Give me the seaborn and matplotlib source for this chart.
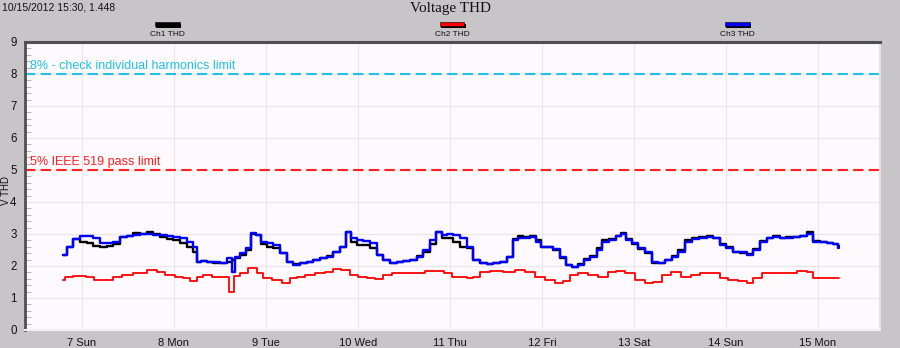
import matplotlib
matplotlib.use("Agg")
import matplotlib.pyplot as plt
import matplotlib.dates as mdates
from matplotlib.ticker import MultipleLocator, FixedLocator
from matplotlib.patches import Rectangle
import pandas as pd
import seaborn as sns

# Recording start reference; all sample times are hours after this instant
START = pd.Timestamp("2012-10-06 00:00")

# Channel 1 and channel 3 share the same sample times (hours)
ch13_hours = [
    19.1, 20.9, 22.6, 24.4, 26.1, 27.8, 29.6, 31.3, 33.0, 34.8, 36.5, 38.3,
    40.0, 41.7, 43.5, 45.2, 47.0, 48.7, 50.4, 52.2, 53.5, 54.4, 55.7, 57.4,
    59.1, 60.9, 62.6, 63.5, 64.3, 66.1, 67.4, 68.7, 70.0, 71.3, 73.0, 74.8,
    76.5, 78.3, 80.0, 81.7, 83.5, 85.2, 87.0, 88.7, 90.4, 92.2, 93.5, 94.8,
    96.5, 98.3, 100.0, 101.7, 103.5, 105.2, 107.0, 108.7, 110.4, 112.2, 113.9,
    115.7, 117.0, 118.7, 120.0, 121.7, 123.5, 125.2, 127.0, 128.7, 130.4,
    132.2, 133.9, 135.7, 137.0, 138.3, 140.0, 141.7, 143.0, 144.4, 146.1,
    147.8, 149.6, 150.9, 152.6, 154.4, 155.7, 157.4, 159.1, 160.4, 162.6,
    164.3, 165.2, 166.9, 168.3, 170.0, 171.7, 173.5, 175.2, 177.0, 178.7,
    180.4, 182.2, 183.9, 186.1, 187.8, 189.6, 191.3, 193.0, 194.8, 196.5,
    198.3, 200.0, 201.7, 203.5, 205.2, 206.9, 208.7, 210.4, 212.2, 213.9,
    215.7, 217.4, 219.1, 220.9, 221.6,
]
ch1_thd = [
    2.35, 2.60, 2.83, 2.76, 2.73, 2.63, 2.60, 2.63, 2.70, 2.90, 2.94, 3.02,
    3.00, 3.07, 3.00, 2.92, 2.83, 2.81, 2.71, 2.60, 2.45, 2.14, 2.15, 2.12,
    2.10, 2.08, 2.14, 2.20, 2.24, 2.35, 2.50, 3.00, 2.97, 2.70, 2.60, 2.55,
    2.40, 2.14, 2.05, 2.08, 2.14, 2.19, 2.26, 2.30, 2.45, 2.60, 3.05, 2.76,
    2.66, 2.66, 2.55, 2.34, 2.19, 2.08, 2.12, 2.15, 2.19, 2.30, 2.45,
    2.70, 3.05, 2.86, 2.86, 2.76, 2.60, 2.55, 2.19, 2.08, 2.06,
    2.08, 2.14, 2.29, 2.85, 2.95, 2.90, 2.95, 2.80, 2.60, 2.58,
    2.50, 2.25, 2.03, 1.98, 2.05, 2.22, 2.32, 2.55, 2.80, 2.85,
    2.95, 3.02, 2.85, 2.68, 2.52, 2.40, 2.10, 2.10, 2.20, 2.30,
    2.50, 2.80, 2.88, 2.90, 2.95, 2.88, 2.68, 2.58, 2.45, 2.42,
    2.38, 2.52, 2.78, 2.88, 2.95, 2.88, 2.90, 2.92, 2.95, 3.05,
    2.78, 2.75, 2.72, 2.70, 2.62,
]
ch3_thd = [
    2.35, 2.60, 2.83, 2.94, 2.94, 2.86, 2.73, 2.71, 2.76, 2.90, 2.94, 2.97,
    3.00, 3.00, 2.97, 2.97, 2.94, 2.92, 2.86, 2.76, 2.60, 2.14, 2.17, 2.14,
    2.12, 2.10, 2.24, 1.82, 2.29, 2.40, 2.55, 3.04, 2.97, 2.76, 2.71, 2.66,
    2.40, 2.14, 2.03, 2.08, 2.14, 2.19, 2.24, 2.29, 2.45, 2.60, 3.07, 2.86,
    2.81, 2.79, 2.71, 2.34, 2.19, 2.08, 2.14, 2.17, 2.19, 2.29, 2.50,
    2.81, 3.07, 2.97, 3.00, 2.97, 2.86, 2.60, 2.19, 2.08, 2.06,
    2.08, 2.14, 2.29, 2.81, 2.86, 2.86, 2.92, 2.76, 2.60, 2.58,
    2.52, 2.29, 2.03, 1.96, 2.03, 2.19, 2.29, 2.50, 2.76, 2.81,
    2.94, 3.00, 2.81, 2.71, 2.55, 2.45, 2.14, 2.10, 2.19, 2.29,
    2.45, 2.76, 2.83, 2.86, 2.92, 2.86, 2.66, 2.55, 2.45, 2.45,
    2.34, 2.50, 2.76, 2.86, 2.92, 2.86, 2.86, 2.90, 2.94, 3.00,
    2.76, 2.76, 2.73, 2.68, 2.55,
]

# Channel 2 sample times (hours) and values
ch2_hours = [
    19.1, 20.0, 23.5, 26.5, 27.8, 31.3, 33.0, 35.7, 39.1, 42.6, 44.4, 47.0,
    49.6, 51.3, 53.0, 54.8, 56.5, 59.1, 61.7, 63.0, 64.3, 66.1, 68.7, 70.4,
    72.2, 74.8, 77.4, 79.1, 80.9, 83.5, 86.1, 88.7, 90.4, 93.0, 94.8, 97.4,
    99.1, 101.7, 103.5, 106.1, 108.7, 112.2, 114.8, 117.4, 119.6, 121.7,
    123.5, 125.2, 127.0, 128.7, 132.2, 135.7, 138.3, 140.9, 143.5, 146.1,
    148.7, 150.4, 152.2, 154.8, 157.4, 160.0, 162.6, 164.3, 166.9, 169.6,
    172.2, 173.9, 176.5, 179.1, 181.7, 184.3, 186.1, 189.6, 191.3, 193.9,
    196.5, 198.3, 200.0, 202.6, 205.2, 208.7, 212.2, 213.9, 215.7, 218.3,
    221.6,
]
ch2_thd = [
    1.56, 1.67, 1.69, 1.67, 1.56, 1.56, 1.67, 1.72, 1.79, 1.88, 1.82, 1.72,
    1.65, 1.61, 1.54, 1.67, 1.72, 1.67, 1.67, 1.20, 1.69, 1.79, 1.93, 1.77,
    1.61, 1.56, 1.46, 1.61, 1.67, 1.72, 1.77, 1.82, 1.90, 1.88, 1.72, 1.67,
    1.61, 1.58, 1.72, 1.77, 1.77, 1.79, 1.85, 1.85, 1.77, 1.67,
    1.67, 1.61, 1.67, 1.82, 1.85, 1.82, 1.88, 1.82, 1.67, 1.56,
    1.46, 1.54, 1.72, 1.77, 1.72, 1.67, 1.82, 1.85, 1.77, 1.56,
    1.46, 1.50, 1.72, 1.82, 1.67, 1.72, 1.79, 1.79, 1.61, 1.56,
    1.54, 1.46, 1.61, 1.77, 1.79, 1.79, 1.85, 1.82, 1.61, 1.61,
    1.61,
]

series_names = ["Ch1 THD", "Ch2 THD", "Ch3 THD"]
series_colors = ["#000000", "#ff0000", "#0000ff"]

day_labels = ["7 Sun", "8 Mon", "9 Tue", "10 Wed", "11 Thu",
              "12 Fri", "13 Sat", "14 Sun", "15 Mon"]

limit_values = [8, 5]
limit_texts = ["8% - check individual harmonics limit", "5% IEEE 519 pass limit"]
limit_colors = ["#1ec3e4", "#ff2020"]

header_text = "10/15/2012 15:30, 1.448"
title_text = "Voltage THD"

sns.set_theme(style="white")
plt.rcParams["font.family"] = ["Liberation Sans", "DejaVu Sans"]


def to_time(hours):
    return START + pd.to_timedelta(hours, unit="h")


ch13 = pd.DataFrame({"time": to_time(ch13_hours), "ch1": ch1_thd, "ch3": ch3_thd})
ch2 = pd.DataFrame({"time": to_time(ch2_hours), "ch2": ch2_thd})

BG = "#c8c5c8"
fig = plt.figure(figsize=(9.0, 3.48), dpi=100, facecolor=BG)
ax = fig.add_axes([25 / 900, 18 / 348, 855 / 900, 288 / 348])
ax.set_facecolor("#fdf9fd")

# Channel traces, drawn as stepped records
sns.lineplot(data=ch13, x="time", y="ch1", ax=ax, color=series_colors[0],
             lw=1.7, estimator=None, sort=False, zorder=3,
             drawstyle="steps-mid")
sns.lineplot(data=ch13, x="time", y="ch3", ax=ax, color=series_colors[2],
             lw=1.7, estimator=None, sort=False, zorder=4,
             drawstyle="steps-mid")
sns.lineplot(data=ch2, x="time", y="ch2", ax=ax, color=series_colors[1],
             lw=1.3, estimator=None, sort=False, zorder=5,
             drawstyle="steps-mid")

# Limit lines with captions
for val, txt, col in zip(limit_values, limit_texts, limit_colors):
    ax.axhline(val, color=col, lw=1.5, dashes=(5, 2.5), zorder=2)
    ax.annotate(txt, xy=(0, val), xycoords=("axes fraction", "data"),
                xytext=(3.5, 1.5), textcoords="offset points",
                ha="left", va="bottom", fontsize=9, color=col)

# Axes ranges
ax.set_xlim(to_time(9.13), to_time(232.2))
ax.set_ylim(0, 9)

# Day ticks
day_ticks = pd.date_range("2012-10-07", periods=len(day_labels), freq="D")
ax.xaxis.set_major_locator(FixedLocator(mdates.date2num(day_ticks)))
ax.set_xticklabels(day_labels)
ax.yaxis.set_major_locator(MultipleLocator(1))
ax.yaxis.set_minor_locator(MultipleLocator(0.2))

ax.tick_params(axis="x", which="major", direction="out", length=4, width=0.8,
               color="#555555", labelsize=8, pad=1.5, labelcolor="#111111")
ax.tick_params(axis="y", which="major", direction="out", length=4, width=0.8,
               color="#555555", labelsize=8.3, pad=2, labelcolor="#111111")
ax.tick_params(axis="y", which="minor", direction="in", length=4, width=0.6,
               color="#aaaaaa", left=True)

ax.grid(True, which="major", color="#e8e6e8", lw=0.8)
ax.set_axisbelow(True)

ax.set_xlabel("")
ax.set_ylabel("V THD", fontsize=7, color="#111111", va="center")
ax.yaxis.set_label_coords(-0.0225, 0.486)

# Bevelled frame
ax.spines["top"].set_color("#505050")
ax.spines["top"].set_linewidth(2.2)
ax.spines["left"].set_color("#505050")
ax.spines["left"].set_linewidth(2.0)
ax.spines["right"].set_color("#e4e2e4")
ax.spines["right"].set_linewidth(1.5)
ax.spines["bottom"].set_color("#f2f0f2")
ax.spines["bottom"].set_linewidth(1.5)

# Header texts
fig.text(2 / 900, 1 - 8 / 348, header_text, ha="left", va="center",
         fontsize=7.5, color="#111111")
fig.text(450 / 900, 1 - 8.5 / 348, title_text, ha="center", va="center",
         fontsize=11, color="#111111", family=["Liberation Serif", "DejaVu Serif"])

# Legend entries spread across the header
legend_x = [167, 452, 737]
for name, col, cx in zip(series_names, series_colors, legend_x):
    w, h = 25, 3.5
    x0 = cx - w / 2
    y0 = 348 - 26
    fig.add_artist(Rectangle(((x0 + 1.5) / 900, (y0 - 1.5) / 348), w / 900, h / 348,
                             transform=fig.transFigure, facecolor="#000000",
                             edgecolor="none"))
    fig.add_artist(Rectangle((x0 / 900, y0 / 348), w / 900, h / 348,
                             transform=fig.transFigure, facecolor=col,
                             edgecolor="#000000", lw=0.4))
    fig.text(cx / 900, 1 - 34 / 348, name, ha="center", va="center",
             fontsize=6, color="#111111")

fig.savefig("out.png", dpi=100, facecolor=BG)
